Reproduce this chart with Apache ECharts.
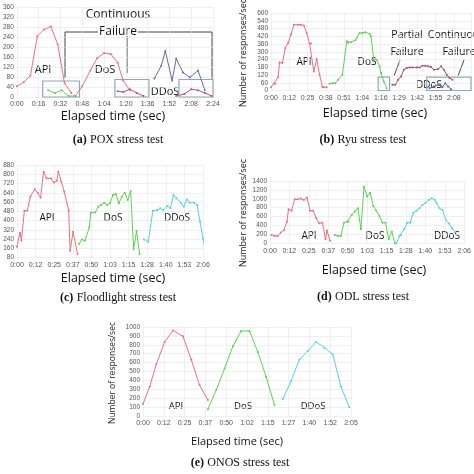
<!DOCTYPE html><html><head><meta charset="utf-8"><script src="https://cdn.jsdelivr.net/npm/echarts@6/dist/echarts.min.js"></script>
<style>html,body{margin:0;padding:0;background:#fff}#c{width:474px;height:474px}</style></head><body><div id="c"></div><script>
const poxTicks=['0:00','0:16','0:32','0:48','1:04','1:20','1:36','1:52','2:08','2:24'];
const ryuTicks=['0:00','0:12','0:25','0:38','0:51','1:04','1:16','1:29','1:42','1:55','2:08'];
const floodTicks=['0:00','0:12','0:25','0:37','0:50','1:03','1:15','1:28','1:40','1:53','2:06'];
const odlTicks=['0:00','0:12','0:25','0:37','0:50','1:03','1:15','1:28','1:40','1:53','2:06'];
const onosTicks=['0:00','0:12','0:25','0:37','0:50','1:02','1:15','1:27','1:40','1:52','2:05'];

const poxApi=[[0,43],[5,59],[10,86],[15,243],[20,270],[25,282],[30,211],[35,55],[40,16]];
const poxApiFail=[[23,27],[28,16],[33,27],[38,4],[42,4]];
const poxDos=[[43,4],[48,43],[54,106],[59,156],[64,176],[69,172],[74,137],[78,66],[83,27]];
const poxDosFail=[[74,23],[78,20],[83,31],[88,16],[93,4]];
const poxDdos=[[101,74],[106,125],[109,184],[114,66],[117,153],[122,98],[127,78],[133,106],[138,27]];
const poxDdosFail=[[117,4],[123,12],[128,31],[133,27],[138,16],[143,4]];

const ryuApi=[[0,26],[2,52],[3,52],[5,104],[6,218],[8,212],[10,330],[12,368],[14,433],[16,510],[19,510],[21,510],[23,503],[25,445],[27,363],[28,363],[30,148],[32,243],[34,122],[36,26],[37,26],[39,26]];
const ryuDos=[[41,52],[43,57],[45,57],[47,83],[50,122],[53,381],[54,368],[56,373],[59,389],[60,407],[62,445],[64,445],[66,451],[69,440],[70,420],[72,238],[74,238],[76,186],[77,135],[79,70],[81,18]];
const ryuDdos=[[85,44],[87,44],[89,83],[91,109],[93,161],[95,174],[97,179],[99,179],[102,179],[104,179],[106,192],[108,192],[110,187],[112,181],[114,161],[117,166],[119,187],[121,161],[123,122],[125,96],[127,83]];
const ryuDdosFail=[[111,18],[114,31],[117,44],[120,26],[122,57],[124,31],[126,10]];

const flApi=[[0,175],[2,296],[3,227],[5,486],[7,486],[9,607],[12,670],[14,641],[16,598],[18,822],[20,765],[23,765],[25,728],[27,745],[28,822],[30,736],[32,650],[35,486],[36,140],[38,304],[41,112]];
const flDos=[[42,198],[44,238],[46,227],[49,342],[50,469],[53,469],[55,520],[57,535],[59,555],[61,535],[63,549],[65,621],[67,630],[69,549],[71,607],[73,641],[75,578],[77,656],[79,152],[81,310],[83,112]];
const flDdos=[[86,238],[89,218],[92,486],[95,491],[97,506],[99,491],[102,526],[104,506],[106,621],[108,592],[111,555],[113,520],[115,584],[117,555],[120,555],[122,535],[124,391],[126,247],[128,112]];

const odlApi=[[1,187],[3,165],[5,165],[7,240],[9,300],[11,487],[12,764],[14,734],[16,989],[18,989],[20,1004],[22,974],[24,1026],[26,734],[28,734],[30,562],[32,449],[34,464],[36,90],[37,285],[39,60]];
const odlDos=[[42,187],[44,165],[46,165],[48,464],[50,487],[51,487],[53,637],[55,712],[57,786],[59,315],[61,1273],[63,1049],[65,1138],[67,839],[69,734],[71,614],[73,464],[75,464],[77,90],[79,262],[81,0]];
const odlDdos=[[82,0],[84,165],[85,187],[87,315],[89,464],[91,464],[93,689],[95,734],[97,786],[99,861],[101,914],[103,974],[105,1011],[107,974],[108,914],[110,786],[112,749],[114,524],[116,449],[118,337],[120,250]];

const onosApi=[[0,134],[4,328],[8,582],[13,832],[18,962],[24,895],[29,634],[34,347],[39,179]];
const onosDos=[[39,75],[44,291],[49,533],[54,783],[59,955],[64,955],[69,720],[74,440],[79,123]];
const onosDdos=[[84,187],[89,395],[94,634],[99,731],[104,832],[109,768],[114,694],[119,328],[124,97]];

const RED='#e8707e',GREEN='#5fcf55',CYAN='#4fd3e3',PURP='#6a6aa8',PINK='#b8507a',DRED='#a8505e',BLUE='#5060a8';
const grids=[],xAxis=[],yAxis=[],series=[];
function panel(g,ticks,iv,xmax,ymin,ymax,yiv,showY){
  const i=grids.length;grids.push(g);
  xAxis.push({type:'value',gridIndex:i,min:0,max:xmax,interval:iv,axisLine:{show:false},axisTick:{show:false},
    splitLine:{show:true,lineStyle:{color:'#e6e6e6',width:0.6}},
    axisLabel:{fontSize:7,color:'#555',margin:4,showMaxLabel:true,formatter:v=>ticks[Math.round(v/iv)]||''}});
  yAxis.push({type:'value',gridIndex:i,min:ymin,max:ymax,interval:yiv,axisLine:{show:false},axisTick:{show:false},
    splitLine:{lineStyle:{color:'#e6e6e6',width:0.6}},axisLabel:{fontSize:6.5,color:'#555',margin:3,show:showY!==false,formatter:v=>String(Math.round(v))}});
  return i;
}
function line(i,data,color,extra){
  series.push(Object.assign({type:'line',xAxisIndex:i,yAxisIndex:i,data:data,symbol:'circle',symbolSize:2,
    lineStyle:{color:color,width:1},itemStyle:{color:color},animation:false},extra||{}));
}
function box(a,b){return {silent:true,itemStyle:{color:'rgba(0,0,0,0)',borderColor:'#8fa8b8',borderWidth:1.2},data:[[{coord:a},{coord:b}]]};}

let p=panel({left:12,top:7,width:201,height:90},poxTicks,16,144,0,360,40);
line(p,poxApi,RED);line(p,poxApiFail,GREEN,{markArea:box([19,0],[46,64])});
line(p,poxDos,RED);line(p,poxDosFail,PINK,{markArea:box([72,0],[97,70])});
line(p,poxDdos,PURP);line(p,poxDdosFail,PINK,{markArea:box([119,0],[144,70])});

p=panel({left:271,top:13,width:219,height:77.5},ryuTicks,12.8,140,0,600,60);
line(p,ryuApi,RED);line(p,ryuDos,GREEN,{markArea:box([75,0],[83,104])});
line(p,ryuDdos,DRED);line(p,ryuDdosFail,BLUE,{markArea:box([109,0],[140,104])});

p=panel({left:17,top:165,width:186,height:92.7},floodTicks,12.6,126,80,880,80);
line(p,flApi,RED);line(p,flDos,GREEN);line(p,flDdos,CYAN);

p=panel({left:270,top:181,width:219,height:62.3},odlTicks,12.6,126,0,1400,200);
line(p,odlApi,RED);line(p,odlDos,GREEN);line(p,odlDdos,CYAN);

p=panel({left:143,top:327,width:208,height:89},onosTicks,12.5,125,0,1000,100);
line(p,onosApi,RED);line(p,onosDos,GREEN);line(p,onosDdos,CYAN);

const F='"Open Sans", sans-serif',S='"Liberation Serif","DejaVu Serif",serif';
function t(x,y,s,size,extra){return Object.assign({type:'text',x:x,y:y,style:{text:s,font:(size)+'px '+F,fill:'#111',textAlign:'center',textVerticalAlign:'middle'}},extra||{});}
function ln(pts){return {type:'polyline',shape:{points:pts},style:{stroke:'#444',lineWidth:1,fill:null}};}
function cap(x,y,l,s){return {type:'text',x:x,y:y,style:{rich:{b:{font:'bold 12px '+S,fill:'#111'},n:{font:'12px '+S,fill:'#111'}},text:'{b|'+l+'} {n|'+s+'}',textAlign:'center',textVerticalAlign:'middle'}};}
function ytitle(x,y,s,sz){return {type:'text',x:x,y:y,rotation:Math.PI/2,style:{text:s,font:(sz||9)+'px '+F,fill:'#222',textAlign:'center',textVerticalAlign:'middle'}};}
const graphic=[
 ln([[98,32],[65,32],[65,78]]),ln([[138,32],[212,32],[212,79]]),ln([[127,36],[127,73]]),
 t(118,15,'Continuous',12),t(118,32,'Failure',12),
 t(43,70,'API',11),t(105,70,'DoS',11),t(165,92,'DDoS',11),
 t(113,116,'Elapsed time (sec)',12.5),cap(118,140,'(a)','POX stress test'),
 t(304,62,'API',10),t(367,62,'DoS',10),t(429,85,'DDoS',10),
 t(407,35,'Partial',10.5),t(407,52,'Failure',10.5),t(456,35,'Continuous',10.5),t(459,52,'Failure',10.5),
 ln([[400,60],[394,76]]),ln([[464,60],[458,76]]),
 ytitle(243,53,'Number of responses/sec'),
 t(375,113,'Elapsed time (sec)',12.5),cap(363,140,'(b)','Ryu stress test'),
 t(47,218,'API',10),t(113,218,'DoS',10),t(177,218,'DDoS',10),
 t(113,278,'Elapsed time (sec)',12.5),cap(118,298,'(c)','Floodlight stress test'),
 t(309,236,'API',10),t(375,236,'DoS',10),t(447,236,'DDoS',10),
 ytitle(243,213,'Number of responses/sec'),
 t(374,270,'Elapsed time (sec)',12.5),cap(363,297,'(d)','ODL stress test'),
 t(176,406,'API',9.5),t(243,406,'DoS',9.5),t(313,406,'DDoS',9.5),
 ytitle(113,373,'Number of responses/sec',8.5),
 t(237,442,'Elapsed time (sec)',11),cap(240,463,'(e)','ONOS stress test')
];
const ch=echarts.init(document.getElementById('c'));
ch.setOption({animation:false,grid:grids,xAxis:xAxis,yAxis:yAxis,series:series,graphic:graphic});
</script></body></html>
